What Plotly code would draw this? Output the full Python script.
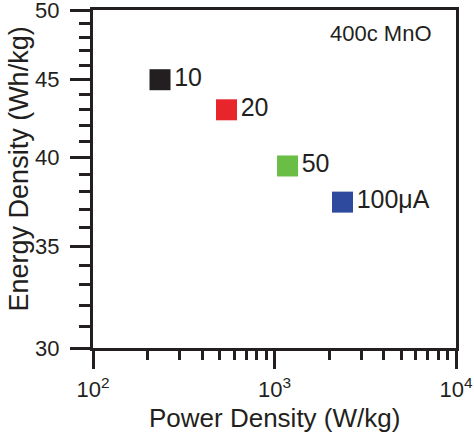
import plotly.graph_objects as go
import math

power = [234, 544, 1180, 2370]
energy = [45.0, 43.0, 39.5, 37.4]
labels = ["10", "20", "50", "100μA"]
colors = ["#231f20", "#e8252a", "#6abd45", "#2e4a9e"]

x_ticks = [100, 1000, 10000]
x_ticktext = ["10<sup>2</sup>", "10<sup>3</sup>", "10<sup>4</sup>"]
x_minor = [200, 300, 400, 500, 600, 700, 800, 900, 2000, 3000, 4000, 5000, 6000, 7000, 8000, 9000]
y_ticks = [30, 35, 40, 45, 50]
y_minor = [v for v in range(31, 50) if v % 5 != 0]

FONT = "Liberation Sans, Arial, sans-serif"
INK = "#231f20"
EPS = 1e-6
W, H = 474, 434
ML, MR, MT, MB = 93, 18, 10, 86
plot_h = H - MT - MB

fig = go.Figure()
fig.add_trace(go.Scatter(
    x=power, y=energy, mode="markers+text",
    text=labels, textposition="middle right",
    marker=dict(symbol="square", size=21, color=colors, line=dict(width=0)),
    textfont=dict(family=FONT, size=25, color=INK),
    showlegend=False, cliponaxis=False,
))

fig.add_annotation(x=0.94, y=0.93, xref="paper", yref="paper", text="400c MnO",
                   showarrow=False, xanchor="right", yanchor="middle",
                   font=dict(family=FONT, size=22, color=INK))
# axis titles
fig.add_annotation(x=0.5, y=(H - MB - 418) / plot_h, xref="paper", yref="paper",
                   text="Power Density (W/kg)",
                   showarrow=False, xanchor="center", yanchor="middle",
                   font=dict(family=FONT, size=26, color=INK))
fig.add_annotation(x=-0.205, y=0.53, xref="paper", yref="paper", text="Energy Density (Wh/kg)",
                   showarrow=False, xanchor="center", yanchor="middle", textangle=-90,
                   font=dict(family=FONT, size=27, color=INK))

axis_common = dict(showline=True, linecolor=INK, linewidth=3, mirror=True,
                   ticks="outside", tickwidth=3, tickcolor=INK,
                   showgrid=False, zeroline=False, automargin=False,
                   ticklabeloverflow="allow",
                   tickfont=dict(family=FONT, size=22, color=INK))

fig.update_xaxes(type="log", range=[2 - EPS, 4 + EPS], tickvals=x_ticks, ticktext=x_ticktext, ticklen=18,
                 minor=dict(tickvals=x_minor, ticks="outside", ticklen=9, tickwidth=3, tickcolor=INK),
                 ticklabelstandoff=2,
                 **axis_common)
fig.update_yaxes(type="log", range=[math.log10(30) - EPS, math.log10(50) + EPS], tickvals=y_ticks, ticklen=20,
                 minor=dict(tickvals=y_minor, ticks="outside", ticklen=11, tickwidth=3, tickcolor=INK),
                 ticklabelstandoff=6,
                 **axis_common)

fig.update_layout(width=W, height=H, margin=dict(l=ML, r=MR, t=MT, b=MB),
                  paper_bgcolor="white", plot_bgcolor="white")

fig.write_html("out.html")
